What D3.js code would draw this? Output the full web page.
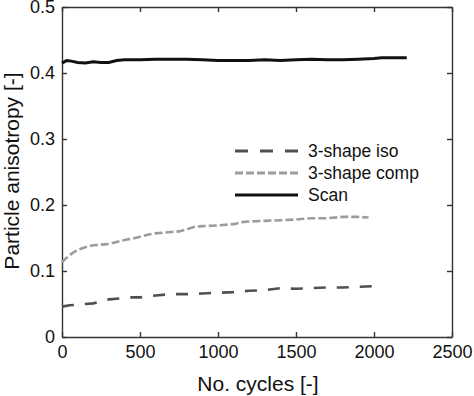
<!DOCTYPE html>
<html><head><meta charset="utf-8">
<script src="https://cdn.jsdelivr.net/npm/d3@7"></script>
<style>body{margin:0;background:#fff}svg{display:block}text{font-family:"Liberation Sans",Arial,sans-serif}</style>
</head><body><svg id="c" width="474" height="396"></svg>
<script>
const xTicks=[0,500,1000,1500,2000,2500];
const yTicks=[0,0.1,0.2,0.3,0.4,0.5];
const yTickLabels=["0","0.1","0.2","0.3","0.4","0.5"];
const seriesNames=["3-shape iso","3-shape comp","Scan"];
const scanX=[0,30,60,100,150,200,250,300,350,400,500,600,700,800,900,1000,1100,1200,1300,1400,1500,1600,1700,1800,1900,2000,2050,2100,2150,2210];
const scanY=[0.415,0.419,0.418,0.416,0.415,0.417,0.416,0.416,0.419,0.420,0.420,0.421,0.421,0.421,0.420,0.419,0.419,0.419,0.420,0.419,0.420,0.421,0.420,0.420,0.421,0.422,0.423,0.423,0.423,0.423];
const compX=[0,20,60,100,150,200,250,300,350,400,450,500,550,600,650,700,750,800,850,900,1000,1100,1150,1200,1300,1400,1500,1600,1700,1800,1900,1965];
const compY=[0.113,0.118,0.126,0.132,0.136,0.139,0.140,0.141,0.144,0.147,0.149,0.152,0.155,0.157,0.158,0.159,0.160,0.163,0.167,0.168,0.169,0.171,0.174,0.175,0.176,0.177,0.178,0.180,0.180,0.182,0.182,0.181];
const isoX=[0,50,100,150,200,250,300,350,400,450,500,600,700,800,900,1000,1100,1200,1300,1400,1500,1600,1700,1800,1900,2000,2055];
const isoY=[0.046,0.048,0.049,0.050,0.051,0.054,0.057,0.058,0.059,0.060,0.060,0.063,0.065,0.065,0.066,0.067,0.068,0.070,0.071,0.074,0.073,0.074,0.075,0.075,0.076,0.077,0.077];

(function(){
const svg=d3.select("#c");
const L=62,R=452,T=7,B=337;
const x=d3.scaleLinear().domain([0,2500]).range([L,R]);
const y=d3.scaleLinear().domain([0,0.5]).range([B,T]);

const g=svg.append("g");
const ax=(gen,tr)=>g.append("g").attr("transform",tr).call(gen);
const aBottom=ax(d3.axisBottom(x).tickValues(xTicks).tickFormat(d3.format("d")).tickSizeInner(-5).tickSizeOuter(0).tickPadding(8),`translate(0,${B})`);
const aLeft=ax(d3.axisLeft(y).tickValues(yTicks).tickFormat((d,i)=>yTickLabels[i]).tickSizeInner(-5).tickSizeOuter(0).tickPadding(7),`translate(${L},0)`);
const aTop=ax(d3.axisTop(x).tickValues(xTicks).tickSizeInner(-5).tickSizeOuter(0).tickFormat(""),`translate(0,${T})`);
const aRight=ax(d3.axisRight(y).tickValues(yTicks).tickSizeInner(-5).tickSizeOuter(0).tickFormat(""),`translate(${R},0)`);
[aBottom,aLeft,aTop,aRight].forEach(a=>{a.select(".domain").attr("stroke","#333").attr("stroke-width",1.4);a.selectAll(".tick line").attr("stroke","#333").attr("stroke-width",1.4);a.selectAll("text").attr("font-size",18).attr("fill","#111")});

const line=d3.line().x(d=>x(d[0])).y(d=>y(d[1]));
const styles=[{c:"#505050",w:2.6,dash:"12,11"},{c:"#9c9c9c",w:2.6,dash:"8,3"},{c:"#111",w:3,dash:null}];
const data=[d3.zip(isoX,isoY),d3.zip(compX,compY),d3.zip(scanX,scanY)];
data.forEach((d,i)=>{
  g.append("path").datum(d).attr("d",line).attr("fill","none").attr("stroke",styles[i].c).attr("stroke-width",styles[i].w).attr("stroke-dasharray",styles[i].dash);
});
const lg=g.append("g");
seriesNames.forEach((n,i)=>{
  const yy=151+i*22;
  lg.append("line").attr("x1",235).attr("x2",298).attr("y1",yy).attr("y2",yy).attr("stroke",styles[i].c).attr("stroke-width",3).attr("stroke-dasharray",i==0?"13,12":styles[i].dash);
  lg.append("text").attr("x",308).attr("y",yy+6).attr("font-size",17.5).attr("fill","#111").text(n);
});
g.append("text").attr("x",258).attr("y",391).attr("text-anchor","middle").attr("font-size",21).attr("fill","#111").text("No. cycles [-]");
g.append("text").attr("transform","translate(19,171) rotate(-90)").attr("text-anchor","middle").attr("font-size",21).attr("fill","#111").text("Particle anisotropy [-]");
})();
</script></body></html>
